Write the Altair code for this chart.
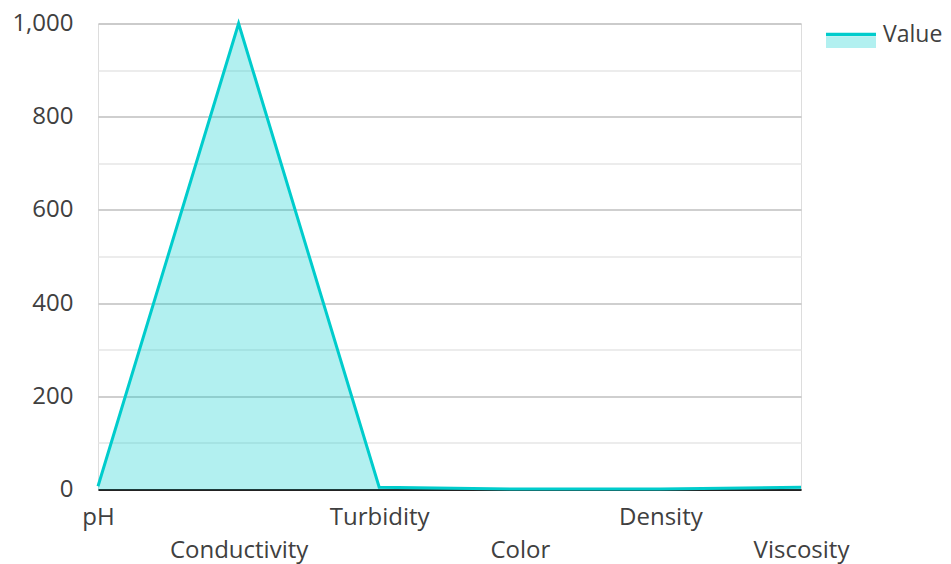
import altair as alt
import pandas as pd

categories = ["pH", "Conductivity", "Turbidity", "Color", "Density", "Viscosity"]
values = [7, 1000, 5, 1, 1, 5]
series = ["Value"] * len(categories)

df = pd.DataFrame({"Parameter": categories, "Amount": values, "Series": series})

FONT = "Open Sans"
LINE = "#00cccc"
TEXT = "#404040"
FS = 24

x = alt.X(
    "Parameter:N",
    sort=categories,
    scale=alt.Scale(type="point", padding=0),
    axis=alt.Axis(
        title=None,
        labelAngle=0,
        ticks=False,
        domainColor="#222222",
        domainWidth=1.8,
        grid=False,
        labelPadding=16,
        labelFontSize=FS,
        labelFont=FONT,
        labelColor=TEXT,
        labelLineHeight=33,
        labelExpr="indexof(['Conductivity','Color','Viscosity'], datum.label) >= 0 ? ['', datum.label] : datum.label",
    ),
)
y = alt.Y(
    "Amount:Q",
    scale=alt.Scale(domain=[0, 1000]),
    axis=alt.Axis(
        title=None,
        values=list(range(0, 1001, 100)),
        labelExpr="datum.value % 200 === 0 ? format(datum.value, ',') : ''",
        ticks=False,
        domain=False,
        labelPadding=25,
        labelFontSize=FS,
        labelFont=FONT,
        labelColor=TEXT,
        gridColor={"condition": {"test": "datum.value % 200 === 0", "value": "#bfbfbf"}, "value": "#e6e6e6"},
        gridWidth=1.3,
    ),
)

area = alt.Chart(df).mark_area(interpolate="linear", fillOpacity=0.3, opacity=1).encode(
    x=x,
    y=y,
    fill=alt.Fill(
        "Series:N",
        scale=alt.Scale(range=[LINE]),
        legend=alt.Legend(
            orient="none",
            legendX=741,
            legendY=7,
            title=None,
            symbolType="M-2.5,-0.55L2.5,-0.55L2.5,0.55L-2.5,0.55Z",
            symbolSize=400,
            symbolStrokeWidth=0,
            symbolOpacity=0.3,
            labelExpr="''",
            labelFontSize=FS,
            padding=0,
        ),
    ),
)
line = alt.Chart(df).mark_line(strokeWidth=3, interpolate="linear").encode(
    x=x,
    y=y,
    stroke=alt.Stroke(
        "Series:N",
        scale=alt.Scale(range=[LINE]),
        legend=alt.Legend(
            orient="none",
            legendX=741,
            legendY=-1,
            title=None,
            symbolType="M-2.5,0L2.5,0",
            symbolSize=400,
            symbolStrokeWidth=3.4,
            labelFontSize=23,
            labelFont=FONT,
            labelColor=TEXT,
            labelOffset=20,
            padding=0,
        ),
    ),
)

chart = (
    alt.layer(area, line)
    .resolve_legend(fill="independent", stroke="independent")
    .resolve_scale(fill="independent", stroke="independent")
    .properties(
        width=703,
        height=466,
        autosize=alt.AutoSizeParams(type="none"),
        padding={"left": 90, "top": 15.5, "right": 142, "bottom": 80},
    )
    .configure_view(stroke=None)
    .configure(font=FONT)
)

chart.save("out.html", embed_options={"renderer": "svg", "actions": False})
